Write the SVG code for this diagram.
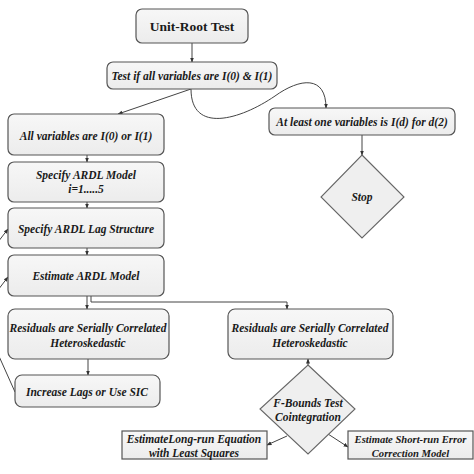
<svg xmlns="http://www.w3.org/2000/svg" width="474" height="474" viewBox="0 0 474 474">
<defs>
<marker id="ah" viewBox="0 0 10 10" refX="9" refY="5" markerWidth="5" markerHeight="5" orient="auto-start-reverse">
<path d="M0,1 L10,5 L0,9 z" fill="#333"/>
</marker>
<linearGradient id="g" x1="0" y1="0" x2="0" y2="1">
<stop offset="0" stop-color="#f7f7f7"/>
<stop offset="1" stop-color="#ececec"/>
</linearGradient>
</defs>
<style>
.box{fill:url(#g);stroke:#555;stroke-width:1.2}
.dia{fill:#efefef;stroke:#666;stroke-width:1.1}
.t{font-family:"Liberation Serif","Times New Roman",serif;font-size:11.5px;font-weight:bold;font-style:italic;fill:#1a1a1a;text-anchor:middle}
.s{font-size:10.6px}
.h{font-family:"Liberation Serif","Times New Roman",serif;font-size:13.5px;font-weight:bold;fill:#1a1a1a;text-anchor:middle}
.c{fill:none;stroke:#444;stroke-width:1}
</style>
<rect width="474" height="474" fill="#fff"/>
<g id="connectors">
<path class="c" d="M192,43 V62" marker-end="url(#ah)"/>
<path class="c" d="M191,89 L118,114" marker-end="url(#ah)"/>
<path class="c" d="M191,89 C191,134 240,120 275,96 C300,78 326,75 326,108" marker-end="url(#ah)"/>
<path class="c" d="M362,135 V155" marker-end="url(#ah)"/>
<path class="c" d="M87,155 V162" marker-end="url(#ah)"/>
<path class="c" d="M87,202 V208" marker-end="url(#ah)"/>
<path class="c" d="M87,248 V255" marker-end="url(#ah)"/>
<path class="c" d="M87,296 V309" marker-end="url(#ah)"/>
<path class="c" d="M91,296 V302 H287 V309" marker-end="url(#ah)"/>
<path class="c" d="M88,359 V375" marker-end="url(#ah)"/>
<path class="c" d="M308,366 V359" marker-end="url(#ah)"/>
<path class="c" d="M287,436 L267,445" marker-end="url(#ah)"/>
<path class="c" d="M328,434 L348,447" marker-end="url(#ah)"/>
<path class="c" d="M-2,242 L8,229" marker-end="url(#ah)"/>
<path class="c" d="M-2,290 L8,277" marker-end="url(#ah)"/>
<path class="c" d="M-2,354 L15,392"/>
</g>
<g id="unit-root"><rect class="box" x="136" y="9" width="112" height="34" rx="6"/><text class="h" x="192" y="31">Unit-Root Test</text></g>
<g id="test-all"><rect class="box" x="107" y="62" width="170" height="27" rx="6"/><text class="t" x="192" y="80">Test if all variables are I(0) &amp; I(1)</text></g>
<g id="all-vars"><rect class="box" x="8" y="114" width="156" height="41" rx="6"/><text class="t" x="86" y="140">All variables are I(0) or I(1)</text></g>
<g id="at-least"><rect class="box" x="269" y="108" width="186" height="27" rx="6"/><text class="t" x="362" y="126">At least one variables is I(d) for d(2)</text></g>
<g id="stop"><polygon class="dia" points="362,155 404,197 362,238 321,197"/><text class="t" x="362" y="201">Stop</text></g>
<g id="specify-model"><rect class="box" x="8" y="162" width="156" height="40" rx="6"/><text class="t" x="86" y="179">Specify ARDL Model</text><text class="t" x="86" y="193">i=1.....5</text></g>
<g id="lag-structure"><rect class="box" x="8" y="208" width="156" height="40" rx="6"/><text class="t" x="86" y="233">Specify ARDL Lag Structure</text></g>
<g id="estimate-ardl"><rect class="box" x="8" y="255" width="156" height="41" rx="6"/><text class="t" x="86" y="280">Estimate ARDL Model</text></g>
<g id="resid-left"><rect class="box" x="8" y="309" width="161" height="50" rx="7"/><text class="t" x="88" y="332">Residuals are Serially Correlated</text><text class="t" x="88" y="347">Heteroskedastic</text></g>
<g id="resid-right"><rect class="box" x="228" y="309" width="165" height="50" rx="7"/><text class="t" x="310" y="332">Residuals are Serially Correlated</text><text class="t" x="310" y="347">Heteroskedastic</text></g>
<g id="increase-lags"><rect class="box" x="15" y="375" width="145" height="32" rx="7"/><text class="t" x="87" y="396">Increase Lags or Use SIC</text></g>
<g id="f-bounds"><polygon class="dia" points="308,365 355,409 308,454 260,409"/><text class="t" x="308" y="407">F-Bounds Test</text><text class="t" x="308" y="421">Cointegration</text></g>
<g id="long-run"><rect class="box" x="122" y="431" width="145" height="28"/><text class="t" x="194" y="443">EstimateLong-run Equation</text><text class="t" x="194" y="457">with Least Squares</text></g>
<g id="short-run"><rect class="box" x="348" y="431" width="125" height="28"/><text class="t s" x="410.5" y="443">Estimate Short-run Error</text><text class="t s" x="410.5" y="457">Correction Model</text></g>
</svg>
